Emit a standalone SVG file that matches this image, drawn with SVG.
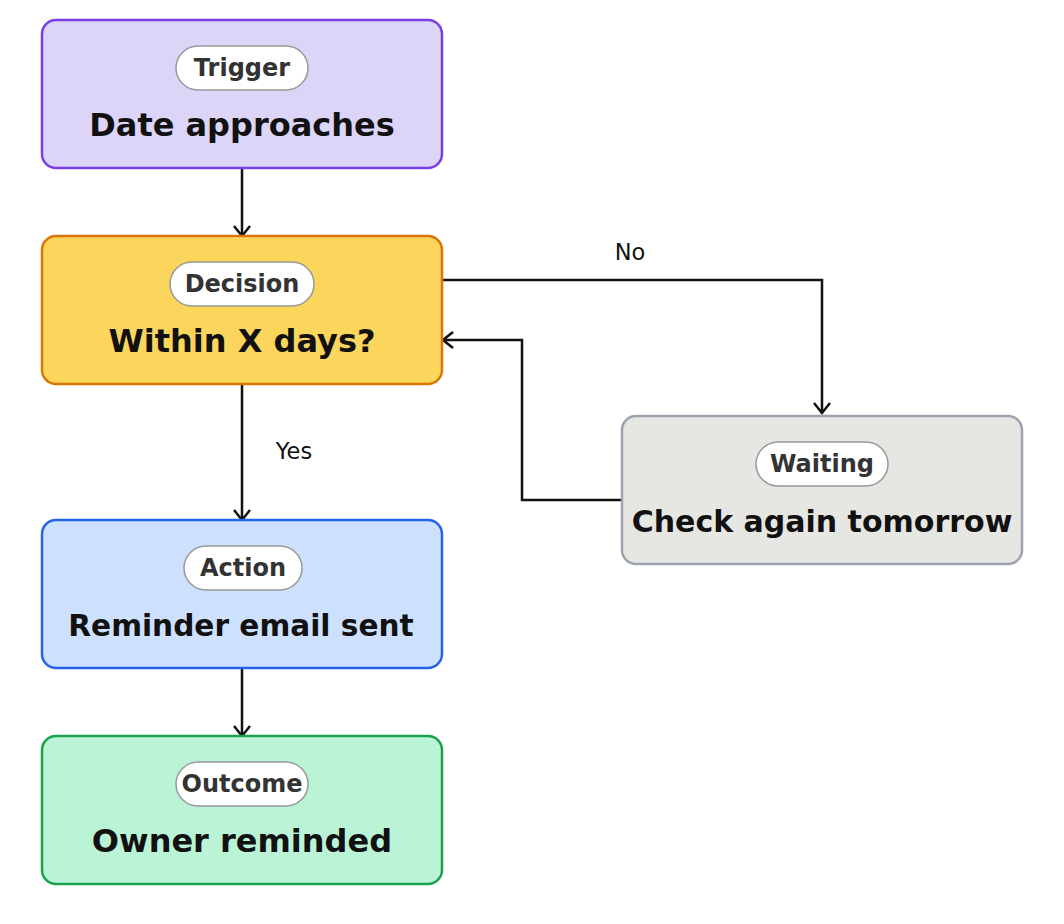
<svg xmlns="http://www.w3.org/2000/svg" width="1064" height="924" viewBox="0 0 1064 924">
<style>
.node{stroke-width:2.5}
.pill{fill:#fff;stroke:#999;stroke-width:1.5}
.pt{font-family:"DejaVu Sans",sans-serif;font-weight:bold;font-size:24px;fill:#333;text-anchor:middle}
.tt{font-family:"DejaVu Sans",sans-serif;font-weight:bold;font-size:32px;fill:#111;text-anchor:middle}
.lbl{font-family:"DejaVu Sans",sans-serif;font-size:22.5px;fill:#111;text-anchor:middle}
.edge{fill:none;stroke:#111;stroke-width:2.5}
</style>
<defs>
<marker id="arr" markerUnits="userSpaceOnUse" markerWidth="24" markerHeight="24" viewBox="-12 -12 24 24" refX="0" refY="0" orient="auto">
<path d="M-10,-8 L0,0 L-10,8" fill="none" stroke="#111" stroke-width="2.5"/>
</marker>
</defs>
<rect width="1064" height="924" fill="#fff"/>
<g id="connectors">
<path class="edge" d="M242,168 V236" marker-end="url(#arr)"/>
<path class="edge" d="M442,280 H822 V413" marker-end="url(#arr)"/>
<path class="edge" d="M622,500 H522 V340 H443" marker-end="url(#arr)"/>
<path class="edge" d="M242,384 V520" marker-end="url(#arr)"/>
<path class="edge" d="M242,668 V736" marker-end="url(#arr)"/>
<text class="lbl" x="630" y="260">No</text>
<text class="lbl" x="294" y="459">Yes</text>
</g>
<g id="trigger">
<rect class="node" x="42" y="20" width="400" height="148" rx="14" fill="#ddd5f7" stroke="#7b3fe4"/>
<rect class="pill" x="176" y="46" width="132" height="44" rx="22"/>
<text class="pt" x="242" y="76">Trigger</text>
<text class="tt" x="242" y="136">Date approaches</text>
</g>
<g id="decision">
<rect class="node" x="42" y="236" width="400" height="148" rx="14" fill="#fcd55c" stroke="#d97706"/>
<rect class="pill" x="170" y="262" width="144" height="44" rx="22"/>
<text class="pt" x="242" y="292">Decision</text>
<text class="tt" x="242" y="352">Within X days?</text>
</g>
<g id="waiting">
<rect class="node" x="622" y="416" width="400" height="148" rx="14" fill="#e6e7e3" stroke="#9ca3af"/>
<rect class="pill" x="756" y="442" width="132" height="44" rx="22"/>
<text class="pt" x="822" y="472">Waiting</text>
<text class="tt" x="822" y="532" style="font-size:30px">Check again tomorrow</text>
</g>
<g id="action">
<rect class="node" x="42" y="520" width="400" height="148" rx="14" fill="#cde0fd" stroke="#2563eb"/>
<rect class="pill" x="184" y="546" width="118" height="44" rx="22"/>
<text class="pt" x="243" y="576">Action</text>
<text class="tt" x="241" y="636" style="font-size:29.6px">Reminder email sent</text>
</g>
<g id="outcome">
<rect class="node" x="42" y="736" width="400" height="148" rx="14" fill="#bbf3d7" stroke="#16a34a"/>
<rect class="pill" x="176" y="762" width="132" height="44" rx="22"/>
<text class="pt" x="242" y="792">Outcome</text>
<text class="tt" x="242" y="852">Owner reminded</text>
</g>
</svg>
